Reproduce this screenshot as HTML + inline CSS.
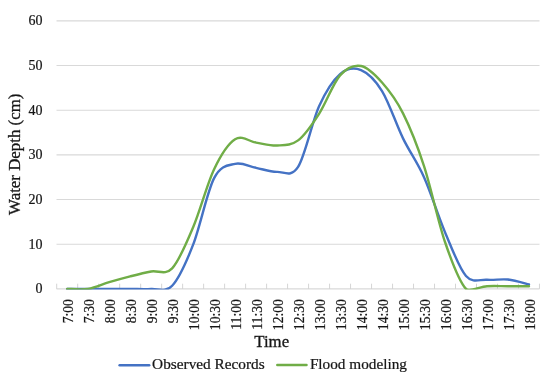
<!DOCTYPE html>
<html><head><meta charset="utf-8"><title>Water Depth chart</title>
<style>
html,body{margin:0;padding:0;background:#fff;}
body{width:550px;height:378px;overflow:hidden;}
svg{display:block;}
text{font-family:"Liberation Serif","DejaVu Serif",serif;fill:#161616;stroke:#161616;stroke-width:0.22px;}
</style></head><body>
<svg width="550" height="378" viewBox="0 0 550 378">
<rect width="550" height="378" fill="#ffffff"/>

<line x1="56.5" x2="539.5" y1="288.90" y2="288.90" stroke="#d9d9d9" stroke-width="1.1"/>
<line x1="56.5" x2="539.5" y1="244.23" y2="244.23" stroke="#d9d9d9" stroke-width="1.1"/>
<line x1="56.5" x2="539.5" y1="199.57" y2="199.57" stroke="#d9d9d9" stroke-width="1.1"/>
<line x1="56.5" x2="539.5" y1="154.90" y2="154.90" stroke="#d9d9d9" stroke-width="1.1"/>
<line x1="56.5" x2="539.5" y1="110.23" y2="110.23" stroke="#d9d9d9" stroke-width="1.1"/>
<line x1="56.5" x2="539.5" y1="65.57" y2="65.57" stroke="#d9d9d9" stroke-width="1.1"/>
<line x1="56.5" x2="539.5" y1="20.90" y2="20.90" stroke="#d9d9d9" stroke-width="1.1"/>
<line x1="56.70" x2="56.70" y1="283.70" y2="288.90" stroke="#d0d0d0" stroke-width="0.9"/>
<line x1="77.69" x2="77.69" y1="283.70" y2="288.90" stroke="#d0d0d0" stroke-width="0.9"/>
<line x1="98.68" x2="98.68" y1="283.70" y2="288.90" stroke="#d0d0d0" stroke-width="0.9"/>
<line x1="119.67" x2="119.67" y1="283.70" y2="288.90" stroke="#d0d0d0" stroke-width="0.9"/>
<line x1="140.66" x2="140.66" y1="283.70" y2="288.90" stroke="#d0d0d0" stroke-width="0.9"/>
<line x1="161.65" x2="161.65" y1="283.70" y2="288.90" stroke="#d0d0d0" stroke-width="0.9"/>
<line x1="182.64" x2="182.64" y1="283.70" y2="288.90" stroke="#d0d0d0" stroke-width="0.9"/>
<line x1="203.63" x2="203.63" y1="283.70" y2="288.90" stroke="#d0d0d0" stroke-width="0.9"/>
<line x1="224.62" x2="224.62" y1="283.70" y2="288.90" stroke="#d0d0d0" stroke-width="0.9"/>
<line x1="245.61" x2="245.61" y1="283.70" y2="288.90" stroke="#d0d0d0" stroke-width="0.9"/>
<line x1="266.60" x2="266.60" y1="283.70" y2="288.90" stroke="#d0d0d0" stroke-width="0.9"/>
<line x1="287.59" x2="287.59" y1="283.70" y2="288.90" stroke="#d0d0d0" stroke-width="0.9"/>
<line x1="308.58" x2="308.58" y1="283.70" y2="288.90" stroke="#d0d0d0" stroke-width="0.9"/>
<line x1="329.57" x2="329.57" y1="283.70" y2="288.90" stroke="#d0d0d0" stroke-width="0.9"/>
<line x1="350.56" x2="350.56" y1="283.70" y2="288.90" stroke="#d0d0d0" stroke-width="0.9"/>
<line x1="371.55" x2="371.55" y1="283.70" y2="288.90" stroke="#d0d0d0" stroke-width="0.9"/>
<line x1="392.54" x2="392.54" y1="283.70" y2="288.90" stroke="#d0d0d0" stroke-width="0.9"/>
<line x1="413.53" x2="413.53" y1="283.70" y2="288.90" stroke="#d0d0d0" stroke-width="0.9"/>
<line x1="434.52" x2="434.52" y1="283.70" y2="288.90" stroke="#d0d0d0" stroke-width="0.9"/>
<line x1="455.51" x2="455.51" y1="283.70" y2="288.90" stroke="#d0d0d0" stroke-width="0.9"/>
<line x1="476.50" x2="476.50" y1="283.70" y2="288.90" stroke="#d0d0d0" stroke-width="0.9"/>
<line x1="497.49" x2="497.49" y1="283.70" y2="288.90" stroke="#d0d0d0" stroke-width="0.9"/>
<line x1="518.48" x2="518.48" y1="283.70" y2="288.90" stroke="#d0d0d0" stroke-width="0.9"/>
<line x1="539.47" x2="539.47" y1="283.70" y2="288.90" stroke="#d0d0d0" stroke-width="0.9"/>
<text x="42.6" y="293.20" font-size="14" text-anchor="end">0</text>
<text x="42.6" y="248.53" font-size="14" text-anchor="end">10</text>
<text x="42.6" y="203.87" font-size="14" text-anchor="end">20</text>
<text x="42.6" y="159.20" font-size="14" text-anchor="end">30</text>
<text x="42.6" y="114.53" font-size="14" text-anchor="end">40</text>
<text x="42.6" y="69.87" font-size="14" text-anchor="end">50</text>
<text x="42.6" y="25.20" font-size="14" text-anchor="end">60</text>
<text transform="translate(73.00,299.2) rotate(-90)" font-size="13.6" text-anchor="end">7:00</text>
<text transform="translate(93.98,299.2) rotate(-90)" font-size="13.6" text-anchor="end">7:30</text>
<text transform="translate(114.97,299.2) rotate(-90)" font-size="13.6" text-anchor="end">8:00</text>
<text transform="translate(135.97,299.2) rotate(-90)" font-size="13.6" text-anchor="end">8:30</text>
<text transform="translate(156.96,299.2) rotate(-90)" font-size="13.6" text-anchor="end">9:00</text>
<text transform="translate(177.94,299.2) rotate(-90)" font-size="13.6" text-anchor="end">9:30</text>
<text transform="translate(198.94,299.2) rotate(-90)" font-size="13.6" text-anchor="end">10:00</text>
<text transform="translate(219.93,299.2) rotate(-90)" font-size="13.6" text-anchor="end">10:30</text>
<text transform="translate(240.92,299.2) rotate(-90)" font-size="13.6" text-anchor="end">11:00</text>
<text transform="translate(261.90,299.2) rotate(-90)" font-size="13.6" text-anchor="end">11:30</text>
<text transform="translate(282.89,299.2) rotate(-90)" font-size="13.6" text-anchor="end">12:00</text>
<text transform="translate(303.88,299.2) rotate(-90)" font-size="13.6" text-anchor="end">12:30</text>
<text transform="translate(324.88,299.2) rotate(-90)" font-size="13.6" text-anchor="end">13:00</text>
<text transform="translate(345.86,299.2) rotate(-90)" font-size="13.6" text-anchor="end">13:30</text>
<text transform="translate(366.85,299.2) rotate(-90)" font-size="13.6" text-anchor="end">14:00</text>
<text transform="translate(387.84,299.2) rotate(-90)" font-size="13.6" text-anchor="end">14:30</text>
<text transform="translate(408.83,299.2) rotate(-90)" font-size="13.6" text-anchor="end">15:00</text>
<text transform="translate(429.82,299.2) rotate(-90)" font-size="13.6" text-anchor="end">15:30</text>
<text transform="translate(450.81,299.2) rotate(-90)" font-size="13.6" text-anchor="end">16:00</text>
<text transform="translate(471.80,299.2) rotate(-90)" font-size="13.6" text-anchor="end">16:30</text>
<text transform="translate(492.79,299.2) rotate(-90)" font-size="13.6" text-anchor="end">17:00</text>
<text transform="translate(513.78,299.2) rotate(-90)" font-size="13.6" text-anchor="end">17:30</text>
<text transform="translate(534.77,299.2) rotate(-90)" font-size="13.6" text-anchor="end">18:00</text>
<clipPath id="c"><rect x="50" y="10" width="500" height="279.6"/></clipPath>
<g clip-path="url(#c)" fill="none" stroke-width="2.4" stroke-linecap="round" stroke-linejoin="round">
<path d="M67.20,288.90 C70.69,288.90 81.19,288.90 88.19,288.90 C95.18,288.90 102.18,288.90 109.17,288.90 C116.17,288.90 123.17,288.90 130.16,288.90 C137.16,288.90 144.16,289.42 151.16,288.90 C158.15,288.38 165.15,293.14 172.14,285.77 C179.14,278.40 186.14,262.62 193.13,244.68 C200.13,226.74 207.13,191.60 214.12,178.13 C221.12,164.65 228.12,165.55 235.12,163.83 C242.11,162.12 249.11,166.51 256.10,167.85 C263.10,169.19 270.10,172.02 277.09,171.87 C284.09,171.72 291.09,177.90 298.08,166.96 C305.08,156.02 312.08,121.70 319.07,106.21 C326.07,90.73 333.07,80.08 340.06,74.05 C347.06,68.02 354.06,67.20 361.05,70.03 C368.05,72.86 375.05,79.64 382.04,91.03 C389.04,102.42 396.04,124.01 403.03,138.37 C410.03,152.74 417.03,161.60 424.02,177.23 C431.02,192.87 438.02,215.72 445.01,232.17 C452.01,248.63 459.01,268.02 466.00,275.95 C473.00,283.88 480.00,279.15 486.99,279.74 C493.99,280.34 500.99,278.74 507.98,279.52 C514.98,280.30 525.48,283.61 528.98,284.43" stroke="#4472c4"/>
<path d="M67.20,288.90 C70.69,288.90 81.19,290.02 88.19,288.90 C95.18,287.78 102.18,284.28 109.17,282.20 C116.17,280.12 123.17,278.18 130.16,276.39 C137.16,274.61 144.16,272.82 151.16,271.48 C158.15,270.14 165.15,275.72 172.14,268.35 C179.14,260.98 186.14,243.79 193.13,227.26 C200.13,210.73 207.13,183.86 214.12,169.19 C221.12,154.53 228.12,143.70 235.12,139.27 C242.11,134.84 249.11,141.57 256.10,142.62 C263.10,143.66 270.10,145.89 277.09,145.52 C284.09,145.15 291.09,145.67 298.08,140.38 C305.08,135.10 312.08,124.64 319.07,113.81 C326.07,102.97 333.07,83.36 340.06,75.39 C347.06,67.43 354.06,64.82 361.05,66.01 C368.05,67.20 375.05,74.65 382.04,82.54 C389.04,90.43 396.04,99.44 403.03,113.36 C410.03,127.28 417.03,144.63 424.02,166.07 C431.02,187.51 438.02,221.53 445.01,242.00 C452.01,262.47 459.01,281.53 466.00,288.90 C469.15,292.22 480.00,286.67 486.99,286.22 C493.99,285.77 500.99,286.22 507.98,286.22 C514.98,286.22 525.48,286.22 528.98,286.22" stroke="#70ad47"/>
</g>
<text transform="translate(20.2,214.9) rotate(-90)" font-size="16" style="stroke-width:0.3px" textLength="121.3" lengthAdjust="spacingAndGlyphs">Water Depth (cm)</text>
<text x="254.3" y="347.4" font-size="16" style="stroke-width:0.3px" textLength="34.8" lengthAdjust="spacingAndGlyphs">Time</text>
<line x1="119.6" x2="149.2" y1="365.2" y2="365.2" stroke="#4472c4" stroke-width="2.5" stroke-linecap="round"/>
<text x="152.1" y="369.2" font-size="14.5" textLength="112.6" lengthAdjust="spacingAndGlyphs">Observed Records</text>
<line x1="277.3" x2="306.5" y1="365.1" y2="365.1" stroke="#70ad47" stroke-width="2.5" stroke-linecap="round"/>
<text x="309.9" y="369.2" font-size="14.5" textLength="97" lengthAdjust="spacingAndGlyphs">Flood modeling</text>
</svg></body></html>
